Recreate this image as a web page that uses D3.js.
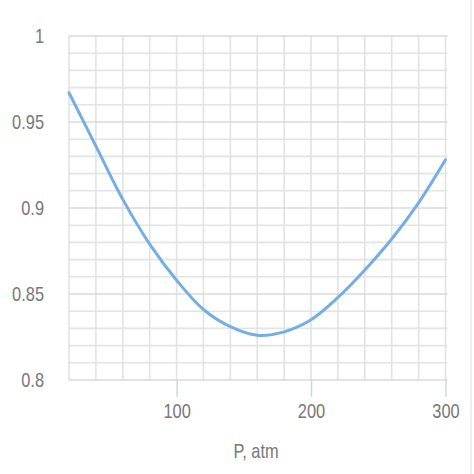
<!DOCTYPE html>
<html>
<head>
<meta charset="utf-8">
<script src="https://cdn.jsdelivr.net/npm/d3@7"></script>
<style>
  html, body { margin: 0; padding: 0; background: #fff; }
  svg { display: block; }
  text { font-family: "Liberation Sans", Arial, sans-serif; fill: #777; }
</style>
</head>
<body>
<svg id="chart" width="474" height="474"></svg>
<script>
// Data
const pressure = [20, 40, 60, 80, 100, 120, 140, 160, 180, 200, 220, 240, 260, 280, 300];
const zFactor = [0.967, 0.936, 0.905, 0.879, 0.858, 0.841, 0.831, 0.826, 0.828, 0.835, 0.848, 0.864, 0.882, 0.903, 0.928];
const xTickLabels = [100, 200, 300];
const yTickLabels = [0.8, 0.85, 0.9, 0.95, 1];
const xTitle = "P, atm";

const svg = d3.select("#chart");
const x = d3.scaleLinear().domain([20, 300]).range([69, 445.5]);
const y = d3.scaleLinear().domain([0.8, 1]).range([380, 36]);
const FS = 20, SX = 0.82;

// Gridlines
const g = svg.append("g");
const xGrid = d3.range(20, 301, 20);
const yGrid = d3.range(0, 21).map(i => 0.8 + i * 0.01);
g.selectAll("line.v").data(xGrid).enter().append("line")
  .attr("x1", d => x(d)).attr("x2", d => x(d))
  .attr("y1", y(1)).attr("y2", y(0.8))
  .attr("stroke", "#e2e2e2").attr("stroke-width", 1.6);
g.selectAll("line.h").data(yGrid).enter().append("line")
  .attr("x1", x(20)).attr("x2", x(300) + 2)
  .attr("y1", d => y(d)).attr("y2", d => y(d))
  .attr("stroke", d => (Math.round(d * 100) % 5 === 0) ? "#dadada" : "#e4e4e4")
  .attr("stroke-width", 1.6);

// X axis ticks
const xAxis = d3.axisBottom(x).tickValues(xTickLabels).tickSize(17).tickPadding(7).tickFormat(d3.format("d"));
const xg = svg.append("g").attr("transform", `translate(0,${y(0.8)})`).call(xAxis);
xg.select(".domain").remove();
xg.selectAll(".tick line").attr("stroke", "#c9d6e6").attr("stroke-width", 1.4);
xg.selectAll(".tick text").attr("font-size", FS).attr("fill", "#777")
  .attr("transform", `scale(${SX},1)`)
  .style("font-family", '"Liberation Sans", Arial, sans-serif');

// Y axis labels
const yAxis = d3.axisLeft(y).tickValues(yTickLabels).tickSize(0).tickPadding(25 * SX).tickFormat(d => String(d));
const yg = svg.append("g").attr("transform", `translate(${x(20)},0)`).call(yAxis);
yg.select(".domain").remove();
yg.selectAll(".tick text").attr("font-size", FS).attr("fill", "#777")
  .attr("x", -25 / SX)
  .attr("transform", `scale(${SX},1)`)
  .style("font-family", '"Liberation Sans", Arial, sans-serif');

// Axis title
svg.append("g").attr("transform", "translate(256,458)")
  .append("text").attr("text-anchor", "middle")
  .attr("transform", `scale(${SX},1)`)
  .attr("font-size", FS).text(xTitle);

// Curve
const line = d3.line().x((d, i) => x(pressure[i])).y(d => y(d)).curve(d3.curveCatmullRom.alpha(0.5));
svg.append("path").datum(zFactor).attr("d", line)
  .attr("fill", "none").attr("stroke", "#74aee2").attr("stroke-width", 3)
  .attr("stroke-linecap", "round");

// Right edge border
svg.append("line").attr("x1", 471).attr("x2", 471).attr("y1", 0).attr("y2", 474)
  .attr("stroke", "#e8e8e8").attr("stroke-width", 1.5);
</script>
</body>
</html>
